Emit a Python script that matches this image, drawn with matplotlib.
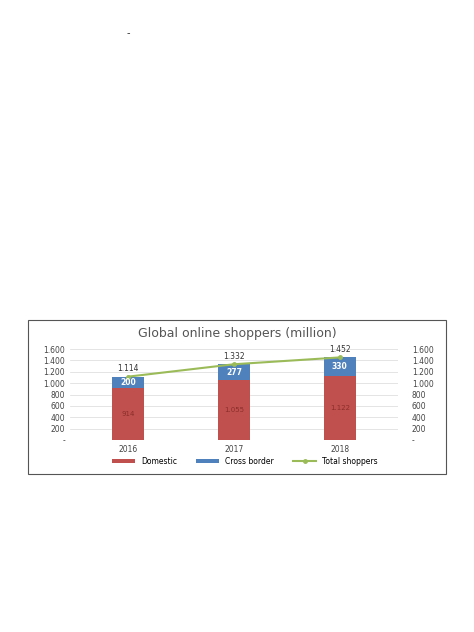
import matplotlib
matplotlib.use("Agg")
import matplotlib.pyplot as plt
from matplotlib.patches import Rectangle

years = ["2016", "2017", "2018"]
domestic = [914, 1055, 1122]
cross_border = [200, 277, 330]
total = [1114, 1332, 1452]
ticks = [0, 200, 400, 600, 800, 1000, 1200, 1400, 1600]
tick_labels = ["-", "200", "400", "600", "800", "1.000", "1.200", "1.400", "1.600"]

def fmt(v):
    return f"{v:,}".replace(",", ".")

W, H = 474, 632
fig = plt.figure(figsize=(W/100, H/100), dpi=100)
fig.patch.set_facecolor("white")
fig.add_artist(Rectangle((28/W, 1-474/H), (446-28)/W, (474-320)/H, transform=fig.transFigure,
                         fill=False, edgecolor="#555555", lw=0.8))
fig.text(128/W, 1-33/H, "-", fontsize=7, ha="center", va="center", color="#333333")

ax = fig.add_axes([70/W, 1-440/H, (398-70)/W, (440-349)/H])
x = range(len(years))
red, blue, green = "#C0504D", "#4F81BD", "#9BBB59"
b1 = ax.bar(x, domestic, 0.3, color=red, label="Domestic")
b2 = ax.bar(x, cross_border, 0.3, bottom=domestic, color=blue, label="Cross border")
l1, = ax.plot(x, total, color=green, lw=1.5, marker="o", ms=2.5, label="Total shoppers")
for i in x:
    ax.text(i, domestic[i]/2, fmt(domestic[i]), ha="center", va="center", fontsize=5, color="#8B2E2B")
    ax.text(i, domestic[i]+cross_border[i]/2, fmt(cross_border[i]), ha="center", va="center", fontsize=5.5, color="white", fontweight="bold")
    ax.text(i, total[i]+60, fmt(total[i]), ha="center", va="bottom", fontsize=5.5, color="#333333")
ax.set_ylim(0, 1600)
ax.set_xlim(-0.55, 2.55)
ax.set_yticks(ticks)
ax.set_yticklabels(tick_labels, fontsize=5.5, color="#444444")
ax.set_xticks(list(x))
ax.set_xticklabels(years, fontsize=5.5, color="#444444")
ax.tick_params(length=0)
ax.grid(axis="y", color="#D9D9D9", lw=0.5)
ax.set_axisbelow(True)
for s in ax.spines.values():
    s.set_visible(False)
ax2 = ax.twinx()
ax2.set_ylim(0, 1600)
ax2.set_yticks(ticks)
ax2.set_yticklabels(tick_labels, fontsize=5.5, color="#444444")
ax2.tick_params(length=0, pad=10)
for s in ax2.spines.values():
    s.set_visible(False)
fig.text(237/W, 1-333/H, "Global online shoppers (million)", fontsize=9, ha="center", va="center", color="#555555")
fig.legend([b1, b2, l1], ["Domestic", "Cross border", "Total shoppers"], loc="center",
           bbox_to_anchor=(245/W, 1-461/H), ncol=3, fontsize=5.5, frameon=False,
           handlelength=3, handleheight=0.5, columnspacing=2.5)
fig.savefig("out.png", dpi=100)
